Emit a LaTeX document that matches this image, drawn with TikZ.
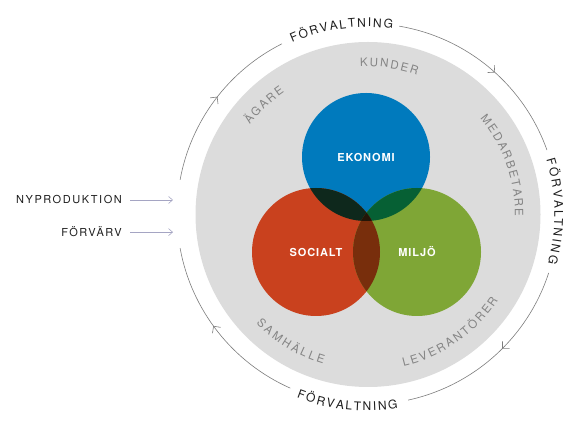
\documentclass[tikz,border=0pt]{standalone}
\usepackage{fontspec}
\setmainfont{TeX Gyre Heros}
\newfontfamily\sidefont[LetterSpace=14]{TeX Gyre Heros}
\newfontfamily\arcfont{TeX Gyre Heros}
\newfontfamily\circfont[LetterSpace=8]{TeX Gyre Heros}
\usetikzlibrary{decorations.text,decorations.markings,arrows.meta}
\definecolor{diskgray}{RGB}{220,220,220}
\definecolor{labgray}{RGB}{132,132,132}
\definecolor{arcgray}{RGB}{125,125,125}
\definecolor{arrlav}{RGB}{165,165,195}
\definecolor{ink}{RGB}{30,30,30}
\definecolor{ecoblue}{RGB}{0,122,189}
\definecolor{socred}{RGB}{201,65,30}
\definecolor{milgreen}{RGB}{127,166,54}
\definecolor{blred}{RGB}{14,40,28}
\definecolor{blgreen}{RGB}{6,96,52}
\definecolor{redgreen}{RGB}{120,46,12}
\definecolor{allthree}{RGB}{35,22,8}
\newcommand{\arclab}{\arcfont\fontsize{11.5}{13}\selectfont}
\newcommand{\outlab}{\arcfont\fontsize{12}{14}\selectfont}
\newcommand{\sidelab}{\sidefont\fontsize{11}{13}\selectfont}
\newcommand{\circlab}{\circfont\bfseries\fontsize{11}{13}\selectfont}
\begin{document}
\begin{tikzpicture}[x=1pt,y=1pt,
  cyc/.style={color=arcgray, line width=0.6pt, postaction={decorate},
    decoration={markings, mark=at position #1 with {\arrow{Straight Barb[length=5pt,width=10pt,line width=0.6pt]}}}},
  graytext/.style={decorate, decoration={text along path, text color=labgray, text align=fit to path, text={|\arclab|#1}}},
  outtext/.style={decorate, decoration={text along path, text color=ink, text align=fit to path, text={|\outlab|#1}}},
  vcircle/.style={circle, minimum size=128pt, inner sep=0pt, text=white, font=\circlab},
  sidetext/.style={anchor=base east, inner sep=0pt, font=\sidelab, text=ink},
  sidearrow/.style={draw=arrlav, line width=0.6pt, -{Straight Barb[length=4pt,width=7pt,line width=0.6pt]}}
]
\useasboundingbox (0,0) rectangle (583,433);

% gray disk
\fill[diskgray] (368,218.5) circle[radius=172.5];

\begin{scope}[shift={(367.5,219)}]
  % outer cycle arcs
  \draw[cyc=0.533] (80.4:190.5) arc[start angle=80.4, end angle=19.6, radius=190.5];
  \draw[cyc=0.452] (-18:190.5) arc[start angle=-18, end angle=-77.7, radius=190.5];
  \draw[cyc=0.54] (-113.9:190.5) arc[start angle=-113.9, end angle=-169.7, radius=190.5];
  \draw[cyc=0.523] (169.7:190.5) arc[start angle=169.7, end angle=116.7, radius=190.5];
  % outer labels
  \path[outtext={FÖRVALTNING}] (113.8:187) arc[start angle=113.8, end angle=82.3, radius=187];
  \path[outtext={FÖRVALTNING}] (16.9:187) arc[start angle=16.9, end angle=-15.3, radius=187];
  \path[outtext={FÖRVALTNING}] (-111.1:197) arc[start angle=-111.1, end angle=-81.1, radius=197];
  % stakeholder labels
  \path[graytext={KUNDER}] (92.9:147.5) arc[start angle=92.9, end angle=70.4, radius=147.5];
  \path[graytext={ÄGARE}] (142.8:147.5) arc[start angle=142.8, end angle=124.3, radius=147.5];
  \path[graytext={MEDARBETARE}] (40.3:147.5) arc[start angle=40.3, end angle=-1.0, radius=147.5];
  \path[graytext={SAMHÄLLE}] (-135.4:156.5) arc[start angle=-135.4, end angle=-106.4, radius=156.5];
  \path[graytext={LEVERANTÖRER}] (-76.7:156.5) arc[start angle=-76.7, end angle=-33.4, radius=156.5];
\end{scope}

% three circles
\node[vcircle, fill=ecoblue] (eko) at (366,276) {EKONOMI};
\node[vcircle, fill=socred] (soc) at (316,181) {SOCIALT};
\node[vcircle, fill=milgreen] (mil) at (417,181) {MILJÖ};
\begin{scope}
  \clip (eko.center) circle[radius=64];
  \fill[blred] (soc.center) circle[radius=64];
  \fill[blgreen] (mil.center) circle[radius=64];
\end{scope}
\begin{scope}
  \clip (soc.center) circle[radius=64];
  \fill[redgreen] (mil.center) circle[radius=64];
  \clip (eko.center) circle[radius=64];
  \fill[allthree] (mil.center) circle[radius=64];
\end{scope}

% inputs
\node[sidetext] (nyp) at (122,229) {NYPRODUKTION};
\node[sidetext] (forv) at (122,196) {FÖRVÄRV};
\coordinate (nypend) at ([xshift=51pt]nyp.east);
\coordinate (forvend) at ([xshift=51pt]forv.east);
\draw[sidearrow] ([xshift=8pt]nyp.east) -- (nypend);
\draw[sidearrow] ([xshift=8pt]forv.east) -- (forvend);
\end{tikzpicture}
\end{document}
